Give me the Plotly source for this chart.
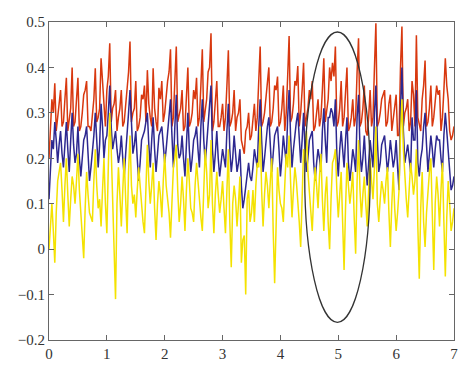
import plotly.graph_objects as go

# samples at x = 0, 0.05, 0.10, ... 7.00
red_a = [0.20, 0.33, 0.365, 0.29, 0.35, 0.28, 0.377, 0.29, 0.40, 0.28,
         0.377, 0.27, 0.34, 0.37, 0.27, 0.30, 0.398, 0.29, 0.42, 0.30,
         0.35, 0.453, 0.31, 0.35, 0.29, 0.35, 0.28, 0.36, 0.457, 0.30,
         0.37, 0.27, 0.34, 0.36, 0.394, 0.29, 0.398, 0.28, 0.355, 0.37,
         0.30, 0.37, 0.44, 0.29, 0.446, 0.30, 0.35, 0.27, 0.40, 0.28,
         0.35, 0.377, 0.29, 0.44, 0.30, 0.39, 0.475, 0.28, 0.37, 0.27,
         0.32, 0.29, 0.438, 0.28, 0.35, 0.29, 0.33, 0.22, 0.26, 0.30,
         0.25, 0.32, 0.29, 0.446, 0.28, 0.34, 0.40, 0.28, 0.36, 0.38,
         0.28, 0.36, 0.30, 0.469, 0.29, 0.37, 0.403, 0.30, 0.41, 0.29,
         0.35, 0.37, 0.27, 0.33, 0.29, 0.42, 0.30, 0.40, 0.41, 0.446,
         0.28, 0.37, 0.29, 0.40, 0.27, 0.33, 0.29, 0.464, 0.28, 0.36,
         0.25, 0.35, 0.29, 0.497, 0.28, 0.33, 0.35, 0.28, 0.34, 0.29,
         0.34, 0.25, 0.49, 0.30, 0.33, 0.28, 0.34, 0.471, 0.27, 0.33,
         0.415, 0.28, 0.36, 0.29, 0.36, 0.35, 0.29, 0.42, 0.33, 0.24,
         0.27]
# samples at x = 0.025, 0.075, ... 6.975
red_b = [0.27, 0.30, 0.26, 0.32, 0.27, 0.33, 0.26, 0.31, 0.27, 0.33,
         0.26, 0.30, 0.35, 0.27, 0.26, 0.33, 0.28, 0.31, 0.36, 0.27,
         0.38, 0.28, 0.32, 0.26, 0.31, 0.27, 0.32, 0.39, 0.28, 0.31,
         0.26, 0.29, 0.33, 0.28, 0.32, 0.27, 0.31, 0.26, 0.33, 0.28,
         0.34, 0.39, 0.27, 0.37, 0.28, 0.31, 0.26, 0.34, 0.27, 0.30,
         0.33, 0.27, 0.36, 0.28, 0.33, 0.40, 0.26, 0.32, 0.27, 0.29,
         0.26, 0.36, 0.27, 0.30, 0.26, 0.30, 0.24, 0.21, 0.27, 0.24,
         0.29, 0.26, 0.37, 0.27, 0.30, 0.36, 0.27, 0.31, 0.35, 0.27,
         0.31, 0.26, 0.38, 0.28, 0.32, 0.36, 0.27, 0.35, 0.27, 0.31,
         0.33, 0.26, 0.30, 0.27, 0.35, 0.28, 0.33, 0.37, 0.38, 0.27,
         0.31, 0.27, 0.34, 0.26, 0.29, 0.27, 0.39, 0.27, 0.31, 0.26,
         0.29, 0.27, 0.40, 0.27, 0.30, 0.34, 0.27, 0.32, 0.26, 0.31,
         0.25, 0.40, 0.27, 0.31, 0.26, 0.37, 0.27, 0.29, 0.26, 0.36,
         0.27, 0.31, 0.27, 0.32, 0.34, 0.26, 0.35, 0.36, 0.26, 0.25]

blue_a = [0.11, 0.24, 0.28, 0.19, 0.26, 0.18, 0.28, 0.17, 0.30, 0.19,
          0.27, 0.16, 0.24, 0.27, 0.15, 0.21, 0.30, 0.18, 0.32, 0.20,
          0.25, 0.36, 0.22, 0.26, 0.19, 0.25, 0.16, 0.27, 0.35, 0.21,
          0.26, 0.15, 0.24, 0.26, 0.30, 0.18, 0.29, 0.17, 0.25, 0.27,
          0.19, 0.26, 0.33, 0.18, 0.34, 0.20, 0.25, 0.16, 0.30, 0.17,
          0.24, 0.27, 0.18, 0.33, 0.19, 0.28, 0.36, 0.17, 0.26, 0.16,
          0.22, 0.18, 0.32, 0.17, 0.25, 0.17, 0.22, 0.09, 0.14, 0.19,
          0.15, 0.22, 0.18, 0.33, 0.17, 0.24, 0.29, 0.17, 0.25, 0.27,
          0.16, 0.25, 0.19, 0.35, 0.18, 0.26, 0.30, 0.19, 0.30, 0.17,
          0.24, 0.26, 0.15, 0.22, 0.17, 0.31, 0.19, 0.29, 0.30, 0.33,
          0.16, 0.26, 0.18, 0.29, 0.15, 0.22, 0.17, 0.34, 0.17, 0.25,
          0.14, 0.24, 0.18, 0.36, 0.17, 0.23, 0.25, 0.17, 0.24, 0.18,
          0.24, 0.13, 0.40, 0.19, 0.23, 0.17, 0.24, 0.35, 0.16, 0.22,
          0.30, 0.17, 0.25, 0.18, 0.25, 0.24, 0.17, 0.30, 0.21, 0.13,
          0.16]
blue_b = [0.18, 0.22, 0.24, 0.23, 0.21, 0.23, 0.22, 0.24, 0.23, 0.21,
          0.20, 0.20, 0.25, 0.21, 0.18, 0.25, 0.24, 0.23, 0.27, 0.24,
          0.30, 0.27, 0.24, 0.22, 0.21, 0.20, 0.21, 0.30, 0.26, 0.23,
          0.20, 0.19, 0.25, 0.28, 0.23, 0.24, 0.22, 0.21, 0.26, 0.23,
          0.22, 0.29, 0.25, 0.27, 0.23, 0.21, 0.20, 0.23, 0.22, 0.20,
          0.25, 0.22, 0.27, 0.24, 0.23, 0.31, 0.22, 0.21, 0.20, 0.19,
          0.20, 0.26, 0.22, 0.20, 0.21, 0.19, 0.14, 0.11, 0.17, 0.16,
          0.18, 0.20, 0.27, 0.24, 0.20, 0.27, 0.23, 0.21, 0.26, 0.22,
          0.20, 0.22, 0.29, 0.25, 0.22, 0.28, 0.25, 0.24, 0.22, 0.20,
          0.25, 0.19, 0.19, 0.20, 0.26, 0.24, 0.29, 0.31, 0.27, 0.21,
          0.22, 0.22, 0.24, 0.19, 0.18, 0.20, 0.29, 0.22, 0.20, 0.19,
          0.19, 0.21, 0.30, 0.24, 0.19, 0.24, 0.21, 0.20, 0.21, 0.20,
          0.18, 0.31, 0.26, 0.21, 0.20, 0.29, 0.24, 0.19, 0.20, 0.27,
          0.23, 0.21, 0.22, 0.22, 0.24, 0.20, 0.25, 0.26, 0.17, 0.14]

yellow_a = [0.00, 0.10, -0.03, 0.15, 0.19, 0.06, 0.20, 0.05, 0.16, 0.10,
            0.21, 0.07, -0.02, 0.17, 0.08, 0.06, 0.22, 0.09, 0.05, 0.20,
            0.035, 0.30, 0.12, -0.11, 0.18, 0.05, 0.20, 0.035, 0.25, 0.10,
            0.07, 0.18, 0.09, 0.035, 0.23, 0.10, 0.19, 0.02, 0.15, 0.07,
            0.21, 0.11, 0.025, 0.18, 0.23, 0.06, 0.16, 0.04, 0.20, 0.09,
            0.06, 0.19, 0.10, 0.04, 0.22, 0.09, 0.24, 0.035, 0.17, 0.08,
            0.15, 0.035, 0.22, -0.04, 0.14, 0.05, 0.16, 0.02, -0.10, 0.13,
            0.08, 0.06, 0.19, 0.27, 0.05, 0.17, 0.09, 0.20, -0.075, 0.18,
            0.10, 0.06, 0.21, 0.25, 0.07, 0.18, 0.11, 0.005, 0.22, 0.26,
            0.12, 0.04, 0.18, 0.09, 0.21, 0.04, 0.16, 0.00, 0.19, 0.22,
            0.07, 0.17, -0.046, 0.19, 0.10, 0.17, -0.01, 0.24, 0.07, 0.16,
            0.05, 0.20, 0.11, 0.27, 0.06, 0.15, 0.10, 0.18, 0.005, 0.17,
            0.04, 0.13, 0.33, 0.15, 0.07, 0.19, 0.12, 0.22, -0.065, 0.17,
            0.005, 0.14, 0.20, -0.046, 0.16, 0.05, 0.19, -0.06, 0.15, 0.04,
            0.09]
yellow_b = [0.05, 0.04, 0.08, 0.17, 0.13, 0.14, 0.12, 0.11, 0.14, 0.15,
            0.13, 0.03, 0.09, 0.12, 0.07, 0.15, 0.14, 0.11, 0.13, 0.10,
            0.18, 0.22, -0.02, 0.10, 0.12, 0.13, 0.11, 0.17, 0.14, 0.12,
            0.13, 0.14, 0.06, 0.16, 0.15, 0.14, 0.09, 0.10, 0.12, 0.15,
            0.14, 0.08, 0.12, 0.20, 0.13, 0.10, 0.11, 0.13, 0.15, 0.08,
            0.14, 0.15, 0.07, 0.15, 0.17, 0.12, 0.10, 0.12, 0.12, 0.11,
            0.09, 0.13, 0.06, 0.10, 0.11, 0.10, -0.03, 0.03, 0.11, 0.06,
            0.13, 0.14, 0.18, 0.13, 0.12, 0.14, 0.15, 0.04, 0.05, 0.13,
            0.09, 0.14, 0.18, 0.15, 0.13, 0.15, 0.06, 0.13, 0.19, 0.17,
            0.08, 0.12, 0.14, 0.16, 0.11, 0.12, 0.06, 0.11, 0.20, 0.13,
            0.12, 0.06, 0.09, 0.14, 0.13, 0.07, 0.15, 0.13, 0.12, 0.10,
            0.13, 0.15, 0.18, 0.10, 0.11, 0.13, 0.15, 0.08, 0.10, 0.09,
            0.08, 0.25, 0.22, 0.11, 0.14, 0.16, 0.15, 0.05, 0.09, 0.06,
            0.08, 0.17, 0.07, 0.10, 0.12, 0.13, 0.06, 0.07, 0.10, 0.06]

x_a = [round(i * 0.05, 3) for i in range(len(red_a))]
x_b = [round(0.025 + i * 0.05, 3) for i in range(len(red_b))]

x_ticks = [0, 1, 2, 3, 4, 5, 6, 7]
y_ticks = [-0.2, -0.1, 0, 0.1, 0.2, 0.3, 0.4, 0.5]
y_tick_text = ["\u22120.2", "\u22120.1", "0", "0.1", "0.2", "0.3", "0.4", "0.5"]
ellipse_x = [4.42, 5.55]
ellipse_y = [-0.161, 0.478]


def merged(a_vals, b_vals):
    pts = sorted(list(zip(x_a, a_vals)) + list(zip(x_b, b_vals)))
    return [p[0] for p in pts], [p[1] for p in pts]


fig = go.Figure()
for a_vals, b_vals, color in [(red_a, red_b, "#d8380f"),
                              (blue_a, blue_b, "#2d2890"),
                              (yellow_a, yellow_b, "#f4e200")]:
    xs, ys = merged(a_vals, b_vals)
    fig.add_trace(go.Scatter(x=xs, y=ys, mode="lines", line=dict(color=color, width=1.5)))

fig.add_shape(type="circle", xref="x", yref="y",
              x0=ellipse_x[0], x1=ellipse_x[1], y0=ellipse_y[0], y1=ellipse_y[1],
              line=dict(color="#333333", width=1.3), layer="above")

axis_common = dict(showgrid=False, zeroline=False, showline=True, linecolor="#666666",
                   linewidth=1, mirror="ticks", ticks="inside", ticklen=5, automargin=False,
                   tickcolor="#666666", tickfont=dict(family="Liberation Serif", size=15, color="#333333"))
fig.update_xaxes(range=[0, 7], tickvals=x_ticks, **axis_common)
fig.update_yaxes(range=[-0.2, 0.5], tickvals=y_ticks, ticktext=y_tick_text, **axis_common)
fig.update_layout(width=474, height=375, showlegend=False,
                  margin=dict(l=41, r=28, t=14, b=43),
                  plot_bgcolor="white", paper_bgcolor="white")
fig.write_html("out.html")
